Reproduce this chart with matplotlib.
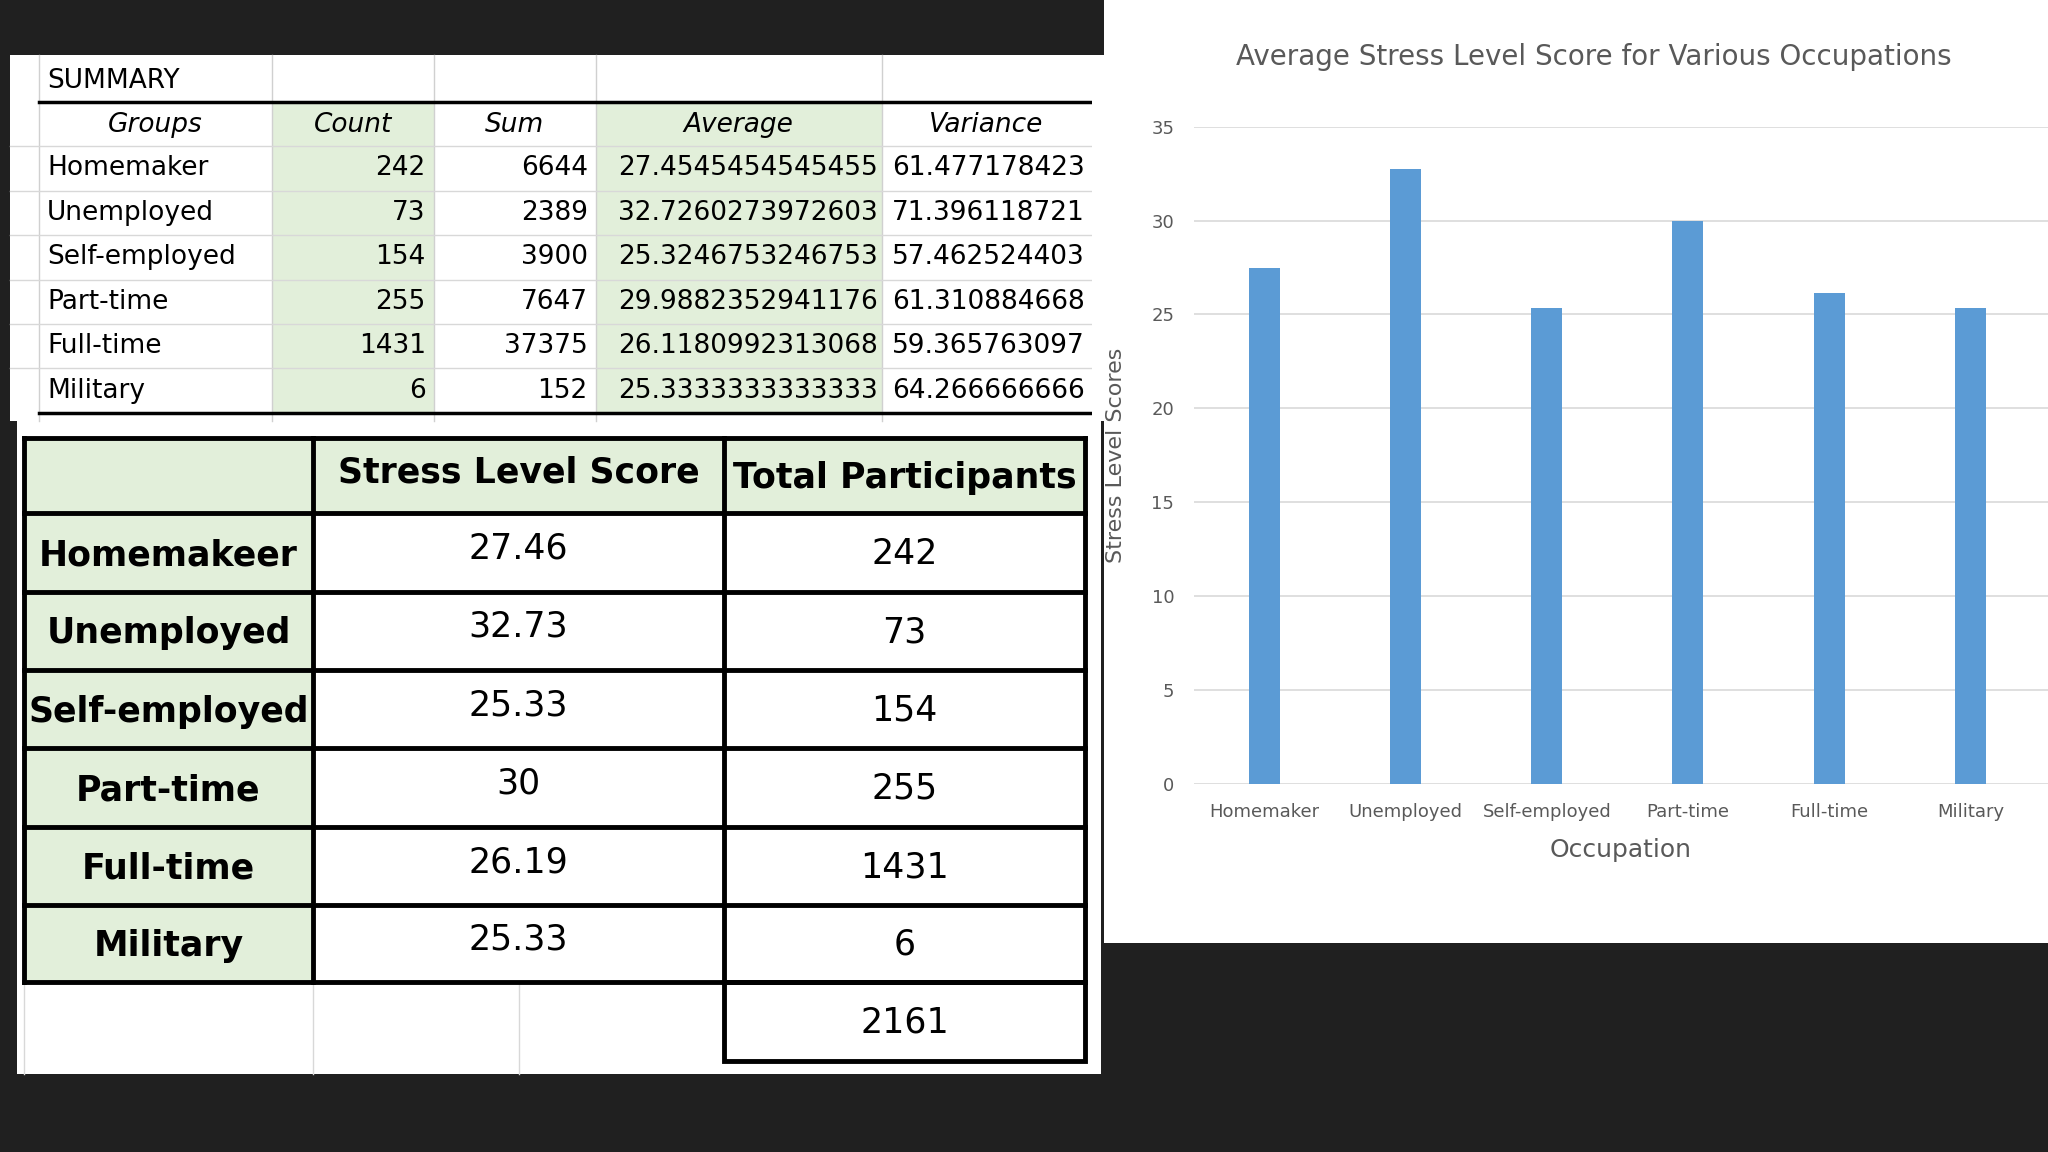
import matplotlib
matplotlib.use("Agg")
import matplotlib.pyplot as plt
from matplotlib.patches import Rectangle

groups = ["Homemaker", "Unemployed", "Self-employed", "Part-time", "Full-time", "Military"]
counts = ["242", "73", "154", "255", "1431", "6"]
sums = ["6644", "2389", "3900", "7647", "37375", "152"]
averages = ["27.4545454545455", "32.7260273972603", "25.3246753246753", "29.9882352941176", "26.1180992313068", "25.3333333333333"]
variances = ["61.477178423", "71.396118721", "57.462524403", "61.310884668", "59.365763097", "64.266666666"]

t2_rows = ["Homemakeer", "Unemployed", "Self-employed", "Part-time", "Full-time", "Military"]
t2_scores = ["27.46", "32.73", "25.33", "30", "26.19", "25.33"]
t2_totals = ["242", "73", "154", "255", "1431", "6"]
t2_grand = "2161"

occupations = ["Homemaker", "Unemployed", "Self-employed", "Part-time", "Full-time", "Military"]
stress = [27.45, 32.73, 25.32, 29.99, 26.12, 25.33]
yticks = [0, 5, 10, 15, 20, 25, 30, 35]

GREEN = "#E2EFDA"
fig = plt.figure(figsize=(20.48, 11.52), dpi=100, facecolor="#202020")
bg = fig.add_axes([0, 0, 1, 1])
bg.set_xlim(0, 1568); bg.set_ylim(882, 0); bg.axis("off")

def rect(x0, y0, x1, y1, fc="none", ec="none", lw=0, z=1):
    bg.add_patch(Rectangle((x0, y0), x1 - x0, y1 - y0, facecolor=fc, edgecolor=ec, linewidth=lw, zorder=z))

# panels
rect(8, 42, 843, 322, fc="white")
rect(13, 322, 843, 822, fc="white")
rect(845, 0, 1568, 722, fc="white")

# --- top summary table
cx = [30, 208, 332, 456, 675, 835]
ry = [45, 78, 112, 146, 180, 214, 248, 282, 316]
rect(cx[1], ry[1], cx[2], ry[-1], fc=GREEN)
rect(cx[3], ry[1], cx[4], ry[-1], fc=GREEN)
for x in cx[:-1]:
    bg.plot([x, x], [42, 322], color="#d0d0d0", lw=1, zorder=2)
for y in ry[2:-1]:
    bg.plot([8, 843], [y, y], color="#d8d8d8", lw=1, zorder=2)
bg.plot([30, 835], [78, 78], color="black", lw=2.5, zorder=3)
bg.plot([30, 835], [316, 316], color="black", lw=2.5, zorder=3)
fs1 = 19
bg.text(36, 62, "SUMMARY", fontsize=fs1, va="center", zorder=4)
hdr = ["Groups", "Count", "Sum", "Average", "Variance"]
for i, h in enumerate(hdr):
    bg.text((cx[i] + cx[i + 1]) / 2, 96, h, fontsize=fs1, style="italic", ha="center", va="center", zorder=4)
for r in range(6):
    yc = (ry[r + 2] + ry[r + 3]) / 2
    bg.text(36, yc, groups[r], fontsize=fs1, va="center", zorder=4)
    bg.text(cx[2] - 6, yc, counts[r], fontsize=fs1, va="center", ha="right", zorder=4)
    bg.text(cx[3] - 6, yc, sums[r], fontsize=fs1, va="center", ha="right", zorder=4)
    bg.text(cx[4] - 3, yc, averages[r], fontsize=fs1, va="center", ha="right", zorder=4)
    bg.text(cx[4] + 8, yc, variances[r], fontsize=fs1, va="center", ha="left", zorder=4, clip_on=True)
rect(836, 42, 845, 322, fc="white", z=5)

# --- bottom table
bx = [18, 240, 554, 831]
by = [335, 393, 453, 513, 573, 633, 693, 752]
rect(bx[0], by[0], bx[3], by[1], fc=GREEN)
rect(bx[0], by[1], bx[1], by[-1], fc=GREEN)
for x in bx:
    bg.plot([x, x], [by[0], by[-1]], color="black", lw=3.5, zorder=3)
for y in by:
    bg.plot([bx[0], bx[3]], [y, y], color="black", lw=3.5, zorder=3)
bg.plot([397, 397], [752, 822], color="#d8d8d8", lw=1)
bg.plot([bx[0], bx[0]], [752, 822], color="#d8d8d8", lw=1)
bg.plot([bx[1], bx[1]], [752, 822], color="#d8d8d8", lw=1)
rect(bx[2], 752, bx[3], 812, ec="black", lw=3.5, z=3)
fs2 = 25
bg.text((bx[1] + bx[2]) / 2, 362, "Stress Level Score", fontsize=fs2, weight="bold", ha="center", va="center", zorder=4)
bg.text((bx[2] + bx[3]) / 2, 366, "Total Participants", fontsize=fs2, weight="bold", ha="center", va="center", zorder=4)
for r in range(6):
    yc = (by[r + 1] + by[r + 2]) / 2
    bg.text((bx[0] + bx[1]) / 2, yc + 2, t2_rows[r], fontsize=fs2, weight="bold", ha="center", va="center", zorder=4)
    bg.text((bx[1] + bx[2]) / 2, yc - 3, t2_scores[r], fontsize=fs2, ha="center", va="center", zorder=4)
    bg.text((bx[2] + bx[3]) / 2, yc + 1, t2_totals[r], fontsize=fs2, ha="center", va="center", zorder=4)
bg.text((bx[2] + bx[3]) / 2, 783, t2_grand, fontsize=fs2, ha="center", va="center", zorder=4)

# --- bar chart
ax = fig.add_axes([914 / 1568, 1 - 600 / 882, 654 / 1568, (600 - 97) / 882])
ax.set_facecolor("white")
ax.bar(range(len(occupations)), stress, width=0.22, color="#5B9BD5", zorder=3)
ax.set_xlim(-0.5, 5.55)
ax.set_ylim(0, 35)
ax.set_yticks(yticks)
ax.set_xticks(range(len(occupations)))
ax.set_xticklabels(occupations)
ax.grid(axis="y", color="#d9d9d9", lw=1.2, zorder=0)
for s in ax.spines.values():
    s.set_visible(False)
ax.tick_params(length=0, colors="#595959", labelsize=13, pad=14)
ax.set_xlabel("Occupation", fontsize=18, color="#595959", labelpad=12)
ax.set_ylabel("Stress Level Scores", fontsize=16, color="#595959", labelpad=18)
fig.text(1220 / 1568, 1 - 44 / 882, "Average Stress Level Score for Various Occupations",
         fontsize=20, color="#595959", ha="center", va="center")

fig.savefig("out.png", dpi=100, facecolor=fig.get_facecolor())
